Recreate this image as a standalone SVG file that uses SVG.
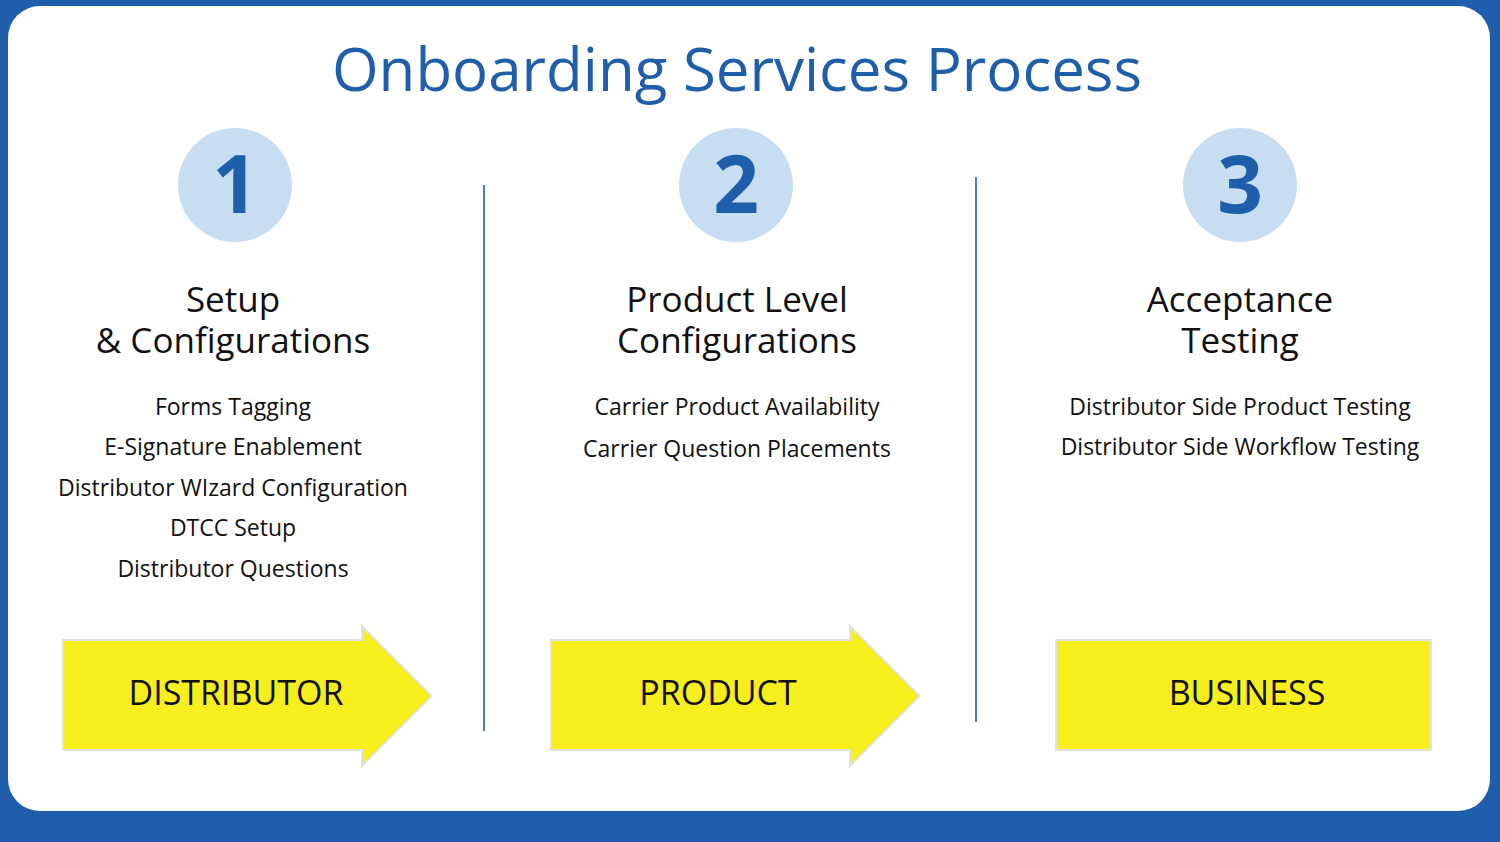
<svg xmlns="http://www.w3.org/2000/svg" width="1500" height="842" viewBox="0 0 1500 842">
<style>
.t{font-family:"Open Sans","Liberation Sans",sans-serif;text-anchor:middle}
.title{font-size:60px;fill:#1f5eab}
.num{font-size:80px;font-weight:bold;fill:#1f5eab}
.circ{fill:#c6ddf2}
.head{font-size:35px;fill:#111}
.item{font-size:23px;fill:#111}
.lab{font-size:34px;fill:#111}
.arr{fill:#f7ef1d;stroke:#e2e2e2;stroke-width:2}
.div{stroke:#4a7cc4;stroke-width:2}
</style>
<rect x="0" y="0" width="1500" height="842" fill="#1f5eab"/>
<rect x="8" y="6" width="1482" height="805" rx="32" fill="#ffffff"/>
<text class="t title" x="737" y="91">Onboarding Services Process</text>
<g id="dividers">
<line class="div" x1="484" y1="185" x2="484" y2="731"/>
<line class="div" x1="976" y1="177" x2="976" y2="722"/>
</g>
<g id="step1">
<circle class="circ" cx="235" cy="185" r="57"/>
<text class="t num" x="235" y="213">1</text>
<text class="t head" x="233" y="312">Setup</text>
<text class="t head" x="233" y="353">&amp; Configurations</text>
<text class="t item" x="233" y="415">Forms Tagging</text>
<text class="t item" x="233" y="455">E-Signature Enablement</text>
<text class="t item" x="233" y="496">Distributor WIzard Configuration</text>
<text class="t item" x="233" y="536">DTCC Setup</text>
<text class="t item" x="233" y="577">Distributor Questions</text>
</g>
<g id="step2">
<circle class="circ" cx="736" cy="185" r="57"/>
<text class="t num" x="736" y="213">2</text>
<text class="t head" x="737" y="312">Product Level</text>
<text class="t head" x="737" y="353">Configurations</text>
<text class="t item" x="737" y="415">Carrier Product Availability</text>
<text class="t item" x="737" y="457">Carrier Question Placements</text>
</g>
<g id="step3">
<circle class="circ" cx="1240" cy="185" r="57"/>
<text class="t num" x="1240" y="213">3</text>
<text class="t head" x="1240" y="312">Acceptance</text>
<text class="t head" x="1240" y="353">Testing</text>
<text class="t item" x="1240" y="415">Distributor Side Product Testing</text>
<text class="t item" x="1240" y="455">Distributor Side Workflow Testing</text>
</g>
<g id="distributor">
<path class="arr" d="M63,640 H362 V626 L432,696 L362,766 V750 H63 Z"/>
<text class="t lab" x="236" y="705">DISTRIBUTOR</text>
</g>
<g id="product">
<path class="arr" d="M551,640 H850 V626 L920,696 L850,766 V750 H551 Z"/>
<text class="t lab" x="718" y="705">PRODUCT</text>
</g>
<g id="business">
<rect class="arr" x="1056" y="640" width="375" height="110"/>
<text class="t lab" x="1247" y="705">BUSINESS</text>
</g>
</svg>
